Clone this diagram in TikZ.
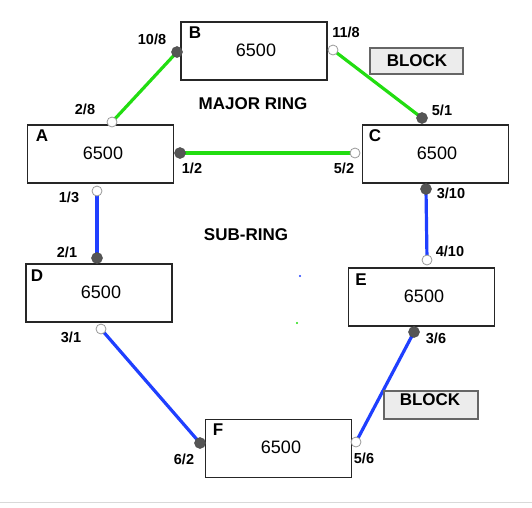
\documentclass[tikz,border=0pt]{standalone}
\usepackage{fontspec}
\setmainfont{Liberation Sans}
\usetikzlibrary{backgrounds}
\definecolor{ringgreen}{HTML}{22DD11}
\definecolor{ringblue}{HTML}{1F3FFF}
\definecolor{portdark}{HTML}{555555}
\definecolor{blockfill}{HTML}{ECECEC}
\begin{document}
\begin{tikzpicture}[x=1pt,y=-1pt,
  switchbox/.style={draw=black!85,line width=1.3pt,minimum width=146pt,minimum height=58pt,inner sep=0pt},
  boxletter/.style={font=\bfseries\fontsize{17}{19}\selectfont,inner sep=0pt},
  model/.style={font=\fontsize{18}{20}\selectfont,inner sep=0pt},
  portlbl/.style={font=\bfseries\fontsize{14.5}{16}\selectfont,inner sep=0pt},
  ringlbl/.style={font=\bfseries\fontsize{17}{19}\selectfont,inner sep=0pt},
  blockbox/.style={draw=black!60,fill=blockfill,line width=1.5pt,inner sep=0pt},
  blocktxt/.style={font=\bfseries\fontsize{17}{19}\selectfont,inner sep=0pt},
  pfill/.style={circle,fill=portdark,draw=black!70,line width=0.5pt,minimum size=11pt,inner sep=0pt},
  popen/.style={circle,fill=white,draw=black!40,line width=0.8pt,minimum size=10pt,inner sep=0pt},
  majorlink/.style={ringgreen,line width=3.2pt},
  sublink/.style={ringblue,line width=3.2pt}]
\useasboundingbox (0,0) rectangle (532,507);
% switches
\node[switchbox] (B) at (254,51) {};
\node[switchbox] (A) at (100.5,154) {};
\node[switchbox] (C) at (435.5,154) {};
\node[switchbox] (D) at (99,293) {};
\node[switchbox] (E) at (421.5,297) {};
\node[switchbox] (F) at (278.5,448.5) {};
% letters
\node[boxletter] (lB) at (195,33) {B};
\node[boxletter] (lA) at (42,136) {A};
\node[boxletter] (lC) at (375,136) {C};
\node[boxletter] (lD) at (37,276) {D};
\node[boxletter] (lE) at (361,280) {E};
\node[boxletter] (lF) at (218,430) {F};
% models
\node[model] (mB) at (256,50) {6500};
\node[model] (mA) at (103,153) {6500};
\node[model] (mC) at (437,153) {6500};
\node[model] (mD) at (101,292) {6500};
\node[model] (mE) at (424,296) {6500};
\node[model] (mF) at (281,447) {6500};
% ring labels
\node[ringlbl] (major) at (253,104) {MAJOR RING};
\node[ringlbl] (sub) at (246,235) {SUB-RING};
% block boxes
\node[blockbox,minimum width=93pt,minimum height=26pt] (blk1) at (416.5,61) {};
\node[blocktxt] (blk1t) at (417,61) {BLOCK};
\node[blockbox,minimum width=94pt,minimum height=28pt] (blk2) at (431,405) {};
\node[blocktxt] (blk2t) at (430,399.5) {BLOCK};
% ports
\node[pfill] (p108) at (177,52) {};
\node[popen] (p118) at (333,50) {};
\node[popen] (p28) at (112,122) {};
\node[pfill] (p12) at (180,153) {};
\node[popen] (p52) at (355,153) {};
\node[pfill] (p51) at (422,118) {};
\node[pfill] (p310) at (426,189) {};
\node[popen] (p410) at (427,260) {};
\node[popen] (p13) at (97,191) {};
\node[pfill] (p21) at (97,258) {};
\node[popen] (p31) at (101,329) {};
\node[pfill] (p36) at (414,332) {};
\node[pfill] (p62) at (200,443) {};
\node[popen] (p56) at (356,442) {};
% links
\begin{scope}[on background layer]
\draw[majorlink] (p108.center) -- (p28.center);
\draw[majorlink] (p118.center) -- (p51.center);
\draw[majorlink] (p12.center) -- (p52.center);
\draw[sublink] (p13.center) -- (p21.center);
\draw[sublink] (p310.center) -- (p410.center);
\draw[sublink] (p31.center) -- (p62.center);
\draw[sublink] (p36.center) -- (p56.center);
\end{scope}
% port labels
\node[portlbl] (t108) at (152,39) {10/8};
\node[portlbl] (t118) at (346,32) {11/8};
\node[portlbl] (t28) at (85,109) {2/8};
\node[portlbl] (t12) at (192,168) {1/2};
\node[portlbl] (t52) at (344,168) {5/2};
\node[portlbl] (t51) at (442,110) {5/1};
\node[portlbl] (t310) at (451,193) {3/10};
\node[portlbl] (t410) at (450,251) {4/10};
\node[portlbl] (t13) at (69,197) {1/3};
\node[portlbl] (t21) at (67,252) {2/1};
\node[portlbl] (t31) at (71,337) {3/1};
\node[portlbl] (t36) at (436,338) {3/6};
\node[portlbl] (t62) at (184,459) {6/2};
\node[portlbl] (t56) at (364,458) {5/6};
% stray dots
\fill[ringblue] (300,276) circle (1.2);
\fill[ringgreen] (297,323) circle (1.2);
% bottom rule
\draw[black!15,line width=1pt] (0,502) -- (532,502);
\end{tikzpicture}
\end{document}
